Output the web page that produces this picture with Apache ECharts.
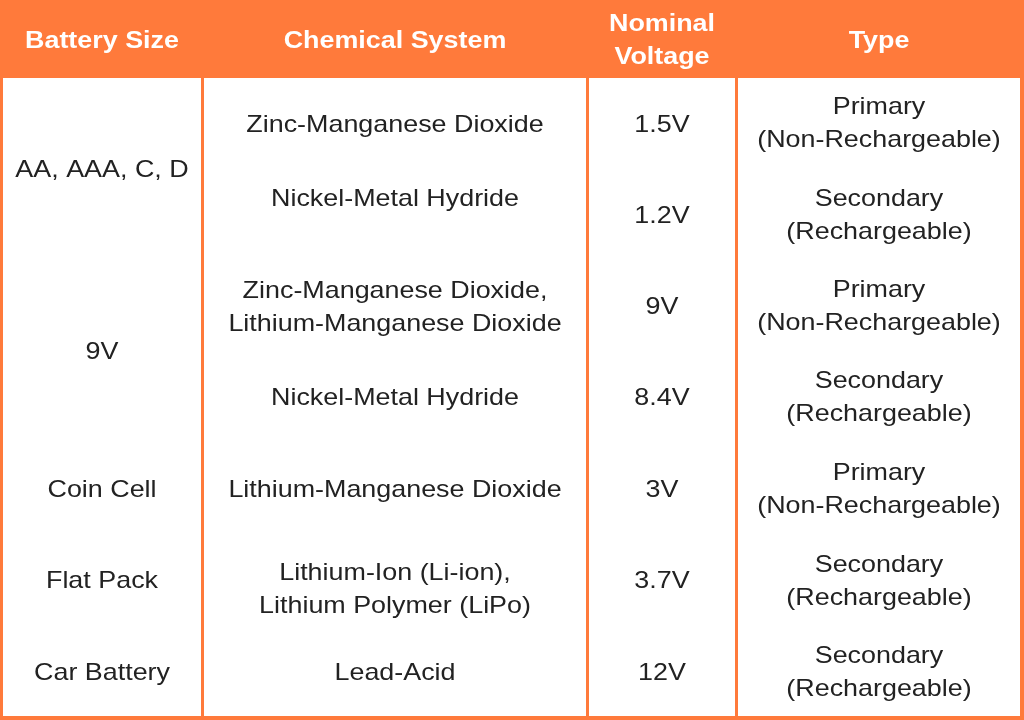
<!DOCTYPE html>
<html><head><meta charset="utf-8">
<script src="https://cdn.jsdelivr.net/npm/echarts@6/dist/echarts.min.js"></script>
<style>html,body{margin:0;padding:0;background:#ff7a3b}#main{width:1024px;height:720px}</style>
</head><body><div id="main"></div>
<script>
// 表头与各列内容
var headers = ['Battery Size', 'Chemical System', 'Nominal\nVoltage', 'Type'];
var sizeCol = [['AA, AAA, C, D', 170], ['9V', 352], ['Coin Cell', 490], ['Flat Pack', 581], ['Car Battery', 673]];
var chemCol = [['Zinc-Manganese Dioxide', 125], ['Nickel-Metal Hydride', 199],
  ['Zinc-Manganese Dioxide,\nLithium-Manganese Dioxide', 308], ['Nickel-Metal Hydride', 398],
  ['Lithium-Manganese Dioxide', 490], ['Lithium-Ion (Li-ion),\nLithium Polymer (LiPo)', 590], ['Lead-Acid', 673]];
var voltCol = [['1.5V', 125], ['1.2V', 216], ['9V', 307], ['8.4V', 398], ['3V', 490], ['3.7V', 581], ['12V', 673]];
var typeCol = [['Primary\n(Non-Rechargeable)', 124], ['Secondary\n(Rechargeable)', 216],
  ['Primary\n(Non-Rechargeable)', 307], ['Secondary\n(Rechargeable)', 398],
  ['Primary\n(Non-Rechargeable)', 490], ['Secondary\n(Rechargeable)', 582], ['Secondary\n(Rechargeable)', 673]];

var cols = [[3, 201], [204, 586], [589, 735], [738, 1020]];
var bodyTop = 78, bodyBottom = 716;
var FONT = '"Liberation Sans", Arial, sans-serif';
var SX = 1.12; // 原图文字横向略拉宽

var elements = [];
// 白色单元格
cols.forEach(function (c) {
  elements.push({type: 'rect', shape: {x: c[0], y: bodyTop, width: c[1] - c[0], height: bodyBottom - bodyTop},
    style: {fill: '#ffffff'}, silent: true});
});
// 表头
headers.forEach(function (h, i) {
  var cx = (cols[i][0] + cols[i][1]) / 2;
  elements.push({type: 'text', x: cx, y: 41, scaleX: SX, style: {text: h, fill: '#ffffff', font: 'bold 24px ' + FONT,
    align: 'center', verticalAlign: 'middle', lineHeight: 33}});
});
// 内容
[sizeCol, chemCol, voltCol, typeCol].forEach(function (col, i) {
  var cx = (cols[i][0] + cols[i][1]) / 2;
  col.forEach(function (d) {
    elements.push({type: 'text', x: cx, y: d[1], scaleX: SX, style: {text: d[0], fill: '#222222', font: '24px ' + FONT,
      align: 'center', verticalAlign: 'middle', lineHeight: 33}});
  });
});

var myChart = echarts.init(document.getElementById('main'));
myChart.setOption({backgroundColor: '#ff7a3b', graphic: {elements: elements}});
</script>
</body></html>
